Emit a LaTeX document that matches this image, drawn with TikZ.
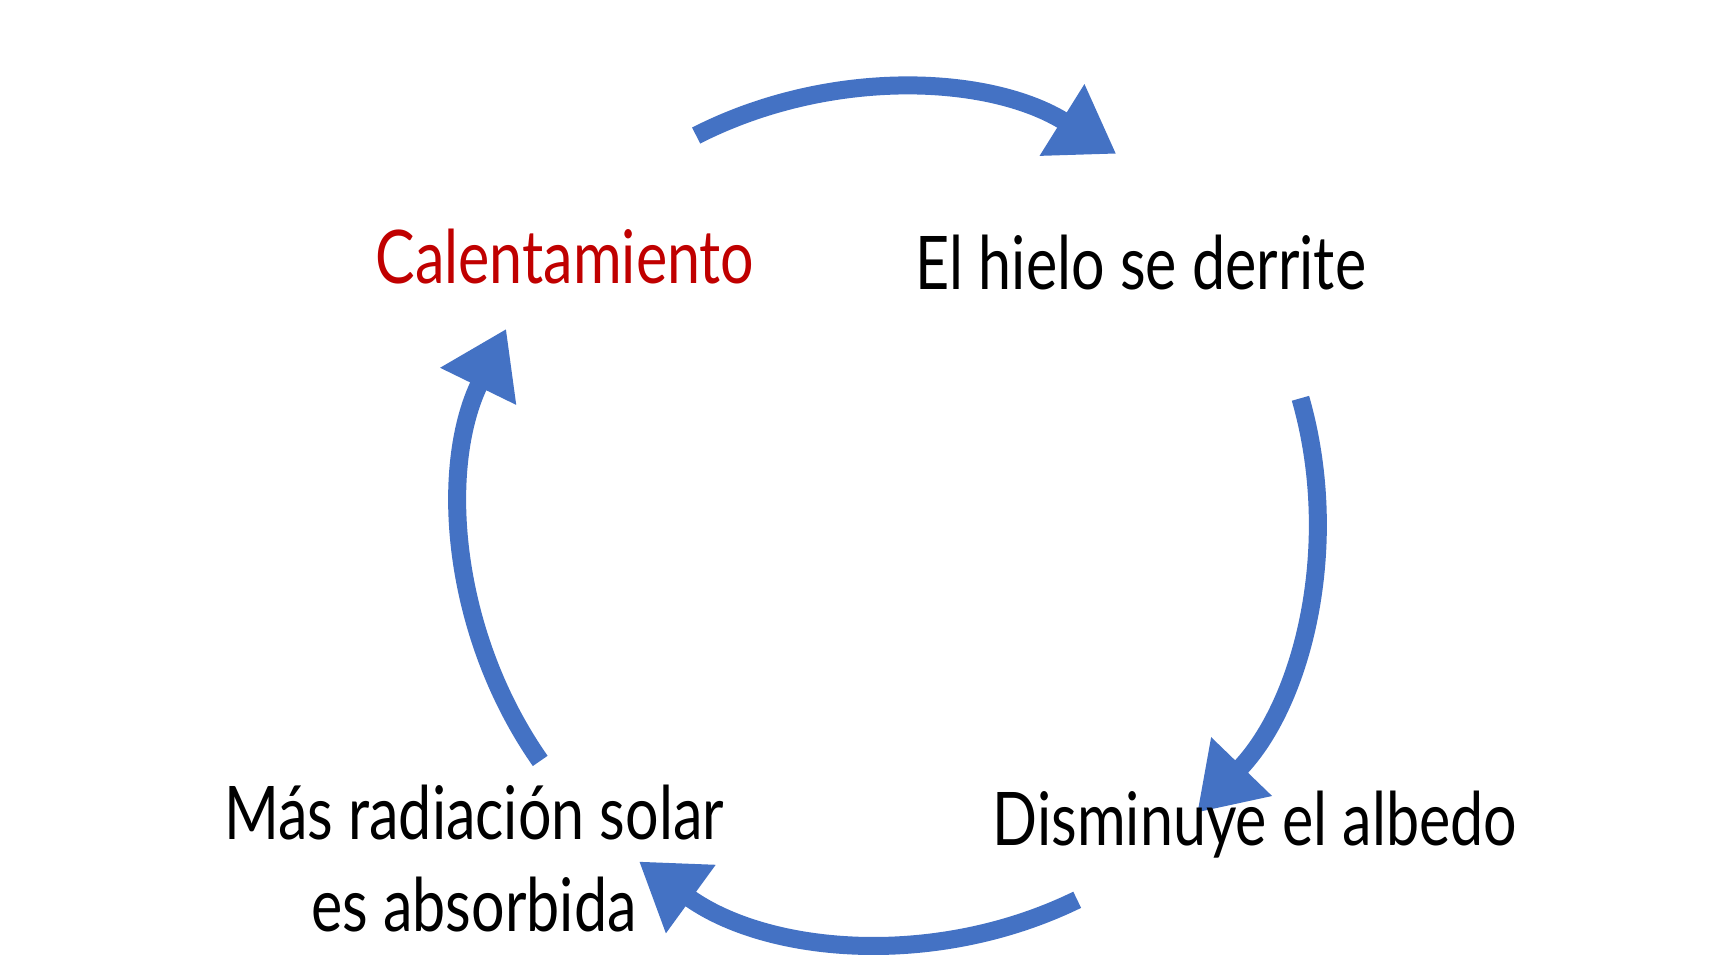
\documentclass[tikz,border=0pt]{standalone}
\usepackage{fontspec}
\setmainfont{Lato}
\usetikzlibrary{arrows.meta}
\definecolor{cycleblue}{HTML}{4472C4}
\definecolor{warmred}{HTML}{C00000}
\tikzset{every picture/.style={line width=0.75pt}}
\tikzset{
  cyclearrow/.style={draw=cycleblue, line width=4.5pt, -{Triangle[length=16pt,width=20pt]}},
  steplabel/.style={font=\fontsize{18.5}{23}\selectfont, inner sep=0pt, align=center, xscale=0.8}
}
\begin{document}
\begin{tikzpicture}[x=0.25pt,y=0.25pt,yscale=-1,xscale=1]

\useasboundingbox (0,0) rectangle (1728,972);
\coordinate (center) at (890,516);

% arcs of the cycle
\draw [cyclearrow] ([shift={(-117:427)}]center) arc [start angle=-117, end angle=-58, radius=427];
\draw [cyclearrow] ([shift={(-16:427)}]center) arc [start angle=-16, end angle=44, radius=427];
\draw [cyclearrow] ([shift={(64:427)}]center) arc [start angle=64, end angle=126, radius=427];
\draw [cyclearrow] ([shift={(145:427)}]center) arc [start angle=145, end angle=206, radius=427];

\node (calentamiento) [steplabel, text=warmred] at (565,257) {Calentamiento};
\node (hielo) [steplabel] at (1141,263) {El hielo se derrite};
\node (albedo) [steplabel] at (1255,825) {Disminuye el albedo};
\node (radiacion) [steplabel] at (474,859) {Más radiación solar\\es absorbida};

\end{tikzpicture}
\end{document}
